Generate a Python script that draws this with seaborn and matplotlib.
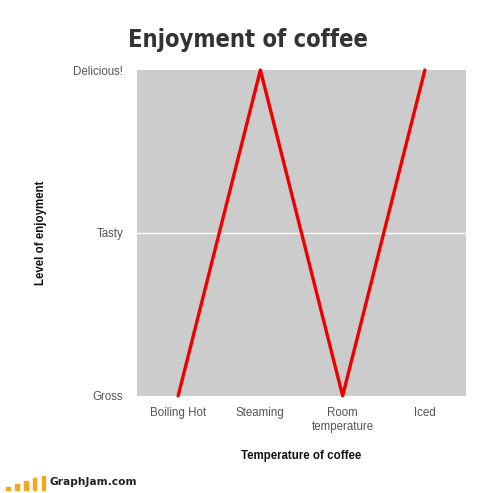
import matplotlib
matplotlib.use("Agg")
import matplotlib.pyplot as plt
import matplotlib.patches as mpatches
import pandas as pd
import seaborn as sns

# chart values
temperatures = ["Boiling Hot", "Steaming", "Room\ntemperature", "Iced"]
enjoyment = [0, 2, 0, 2]
level_ticks = [0, 1, 2]
level_labels = ["Gross", "Tasty", "Delicious!"]

data = pd.DataFrame({"temperature": temperatures, "enjoyment": enjoyment})

sns.set_style("white")
plt.rcParams["font.family"] = ["Liberation Sans", "DejaVu Sans"]

fig = plt.figure(figsize=(5, 4.93), dpi=100)
ax = fig.add_axes([0.274, 0.197, 0.658, 0.661])
ax.set_facecolor("#cccccc")

sns.lineplot(data=data, x="temperature", y="enjoyment", color="#ee0000",
             linewidth=2.4, ax=ax, sort=False, clip_on=False)

ax.set_xlim(-0.5, 3.5)
ax.set_ylim(0, 2)
ax.set_yticks(level_ticks)
ax.set_yticklabels(level_labels)
ax.axhline(1, color="white", linewidth=1, zorder=1)
for s in ax.spines.values():
    s.set_visible(False)
ax.tick_params(axis="both", length=0, colors="#555555", labelsize=8.3)
ax.tick_params(axis="x", pad=8)
ax.tick_params(axis="y", pad=10)

ax.set_xlabel("Temperature of coffee", fontsize=8.3, fontweight="bold",
              color="#111111")
ax.xaxis.set_label_coords(0.5, -0.165)
ax.set_ylabel("Level of enjoyment", fontsize=8.3, fontweight="bold",
              color="#111111")
ax.yaxis.set_label_coords(-0.275, 0.5)

fig.text(0.495, 0.919, "Enjoyment of coffee", ha="center", va="center",
         fontsize=17, fontweight="bold", fontstretch="condensed",
         family=["DejaVu Sans"], color="#333333")

# watermark
bar_heights = [0.006, 0.012, 0.018, 0.024, 0.028]
for i, h in enumerate(bar_heights):
    fig.add_artist(mpatches.Rectangle((0.012 + i * 0.018, 0.006), 0.007, h,
                                      color="#f5a623", transform=fig.transFigure))
fig.text(0.098, 0.022, "GraphJam.com", ha="left", va="center", fontsize=7.7,
         fontweight="bold", color="#222222", family=["DejaVu Sans"])

fig.savefig("out.png", dpi=100, facecolor="white")
